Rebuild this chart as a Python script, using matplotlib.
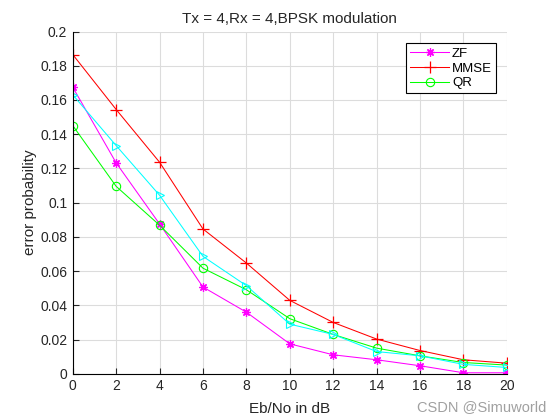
import matplotlib
matplotlib.use("Agg")
import matplotlib.pyplot as plt

plt.rcParams['font.family'] = ['Liberation Sans', 'DejaVu Sans']

snr = [0, 2, 4, 6, 8, 10, 12, 14, 16, 18, 20]
zf = [0.1674, 0.1232, 0.0875, 0.0507, 0.0360, 0.0175, 0.0111, 0.0082, 0.0047, 0.0006, 0.0006]
mmse = [0.1865, 0.1544, 0.1236, 0.0846, 0.0647, 0.0429, 0.0300, 0.0203, 0.0136, 0.0082, 0.0062]
qr = [0.1450, 0.1095, 0.0868, 0.0617, 0.0491, 0.0322, 0.0230, 0.0150, 0.0105, 0.0066, 0.0051]
other = [0.1630, 0.1333, 0.1043, 0.0686, 0.0515, 0.0290, 0.0230, 0.0130, 0.0105, 0.0055, 0.0037]

title = "Tx = 4,Rx = 4,BPSK modulation"
xlabel = "Eb/No in dB"
ylabel = "error probability"
xticks = [0, 2, 4, 6, 8, 10, 12, 14, 16, 18, 20]
yticks = [0, 0.02, 0.04, 0.06, 0.08, 0.1, 0.12, 0.14, 0.16, 0.18, 0.2]
yticklabels = ["0", "0.02", "0.04", "0.06", "0.08", "0.1", "0.12", "0.14", "0.16", "0.18", "0.2"]

fig = plt.figure(figsize=(5.6, 4.2), dpi=100)
ax = fig.add_axes([0.13, 0.11, 0.775, 0.815])

lw = 0.75
ax.plot(snr, zf, color=(1, 0, 1), marker=(8, 2, 0), markersize=6, mew=0.9, lw=lw, label='ZF')
ax.plot(snr, mmse, color=(1, 0, 0), marker='+', markersize=8, mew=0.9, lw=lw, label='MMSE')
ax.plot(snr, qr, color=(0, 1, 0), marker='o', markersize=6, mfc='none', mew=0.8, lw=lw, label='QR')
ax.plot(snr, other, color=(0, 1, 1), marker='>', markersize=6, mfc='none', mew=0.8, lw=lw)

ax.set_xlim(0, 20)
ax.set_ylim(0, 0.2)
ax.set_xticks(xticks)
ax.set_yticks(yticks)
ax.set_yticklabels(yticklabels)
ax.grid(True, color='#dcdcdc', lw=0.8)
ax.set_axisbelow(True)
for s in ['top', 'right']:
    ax.spines[s].set_visible(False)
for s in ['left', 'bottom']:
    ax.spines[s].set_linewidth(0.8)
ax.tick_params(direction='in', length=4, width=0.8, labelsize=10, colors='#262626', pad=4)
ax.set_title(title, fontsize=11, color='#262626', pad=6)
ax.set_xlabel(xlabel, fontsize=11, color='#262626', labelpad=6)
ax.set_ylabel(ylabel, fontsize=11, color='#262626', labelpad=2)

leg = ax.legend(loc='upper right', bbox_to_anchor=(0.975, 0.965), fontsize=9.5, frameon=True,
                fancybox=False, edgecolor='black', framealpha=1, handlelength=3.0,
                borderpad=0.3, labelspacing=0.2, handletextpad=0.2, borderaxespad=0)
leg.get_frame().set_linewidth(0.8)

fig.text(0.975, 0.015, "CSDN @Simuworld", ha='right', va='bottom', fontsize=10.5, color='#a0a0a0')

fig.savefig("out.png", dpi=100)
